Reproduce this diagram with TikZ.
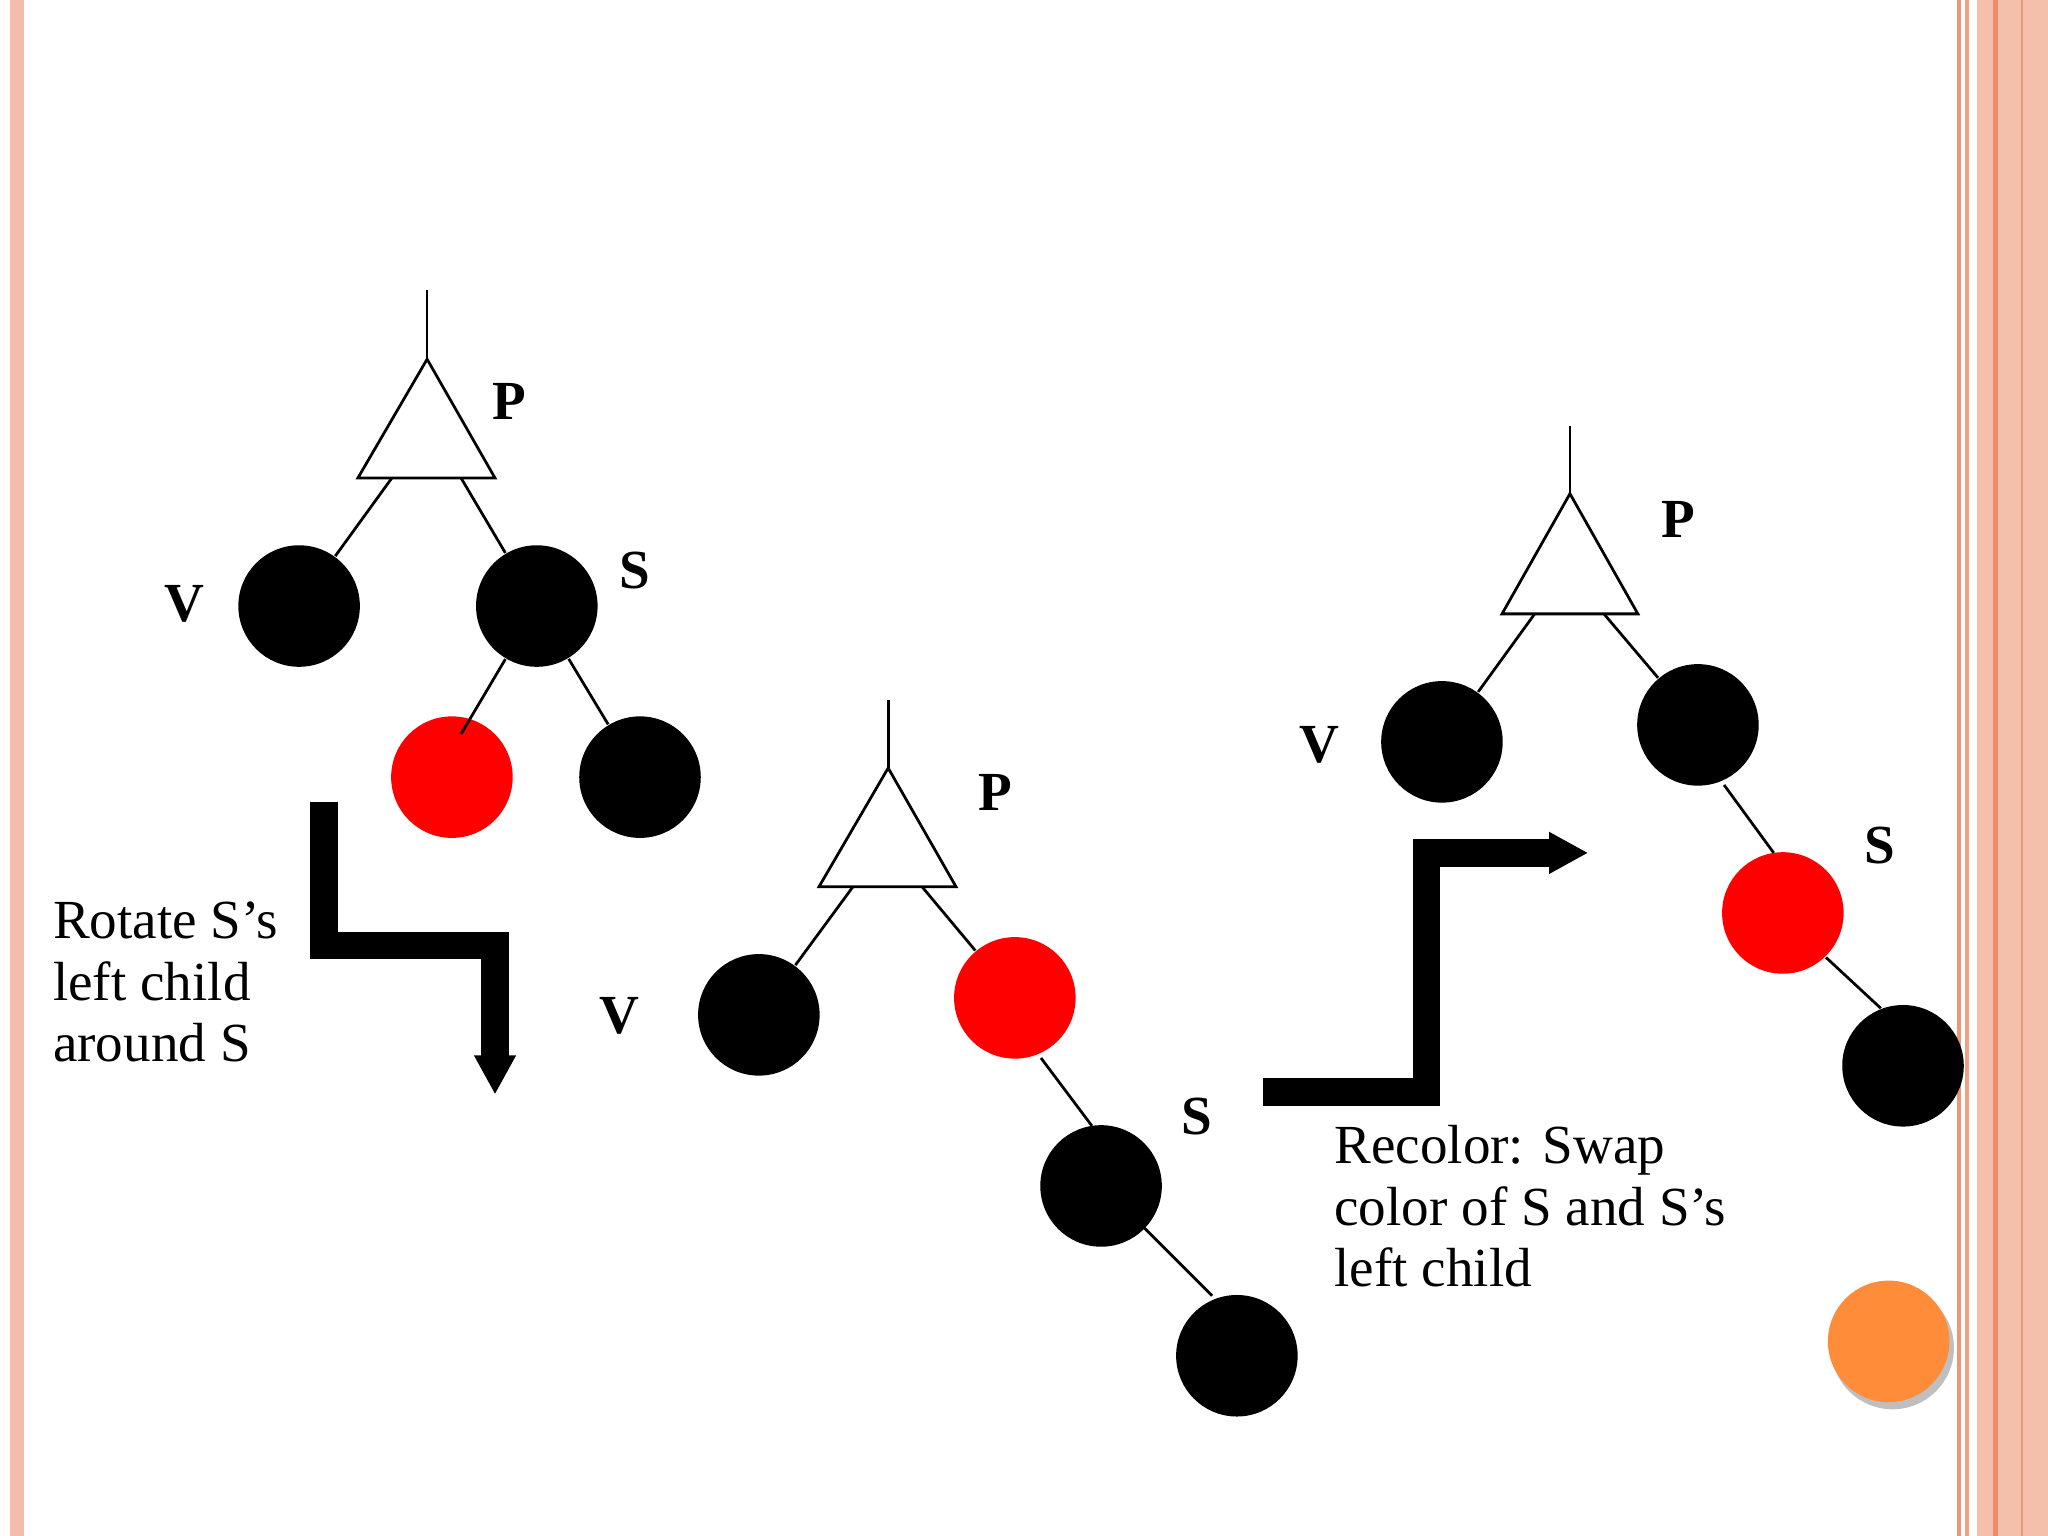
\documentclass[tikz,border=0pt]{standalone}
\usepackage{fontspec}
\setmainfont{Liberation Serif}
\begin{document}
\begin{tikzpicture}[x=0.01cm,y=-0.01cm,
  blk/.style={circle,fill=black,minimum size=0.93cm,inner sep=0},
  rd/.style={circle,fill=red,minimum size=0.93cm,inner sep=0},
  tri/.style={draw,line width=0.6pt},
  edge/.style={line width=0.6pt},
  lab/.style={font=\fontsize{12}{12}\selectfont\bfseries},
  txt/.style={font=\fontsize{12}{13.4}\selectfont,align=left,anchor=north west,inner sep=0},
  big/.style={line width=2.1mm,-{Triangle[length=3mm,width=3mm]}}]
\useasboundingbox (0,0) rectangle (1568,1176);
\usetikzlibrary{arrows.meta}
% borders
\fill[fill={rgb,255:red,244;green,188;blue,170}] (8,0) rectangle (18,1176);
\fill[fill={rgb,255:red,244;green,192;blue,172}] (1514,0) rectangle (1568,1176);
\draw[color={rgb,255:red,240;green,150;blue,120},line width=1pt] (1500,0)--(1500,1176);
\draw[color={rgb,255:red,240;green,160;blue,130},line width=1pt] (1506,0)--(1506,1176);
\draw[color={rgb,255:red,235;green,140;blue,110},line width=1pt] (1528,0)--(1528,1176);
\draw[color={rgb,255:red,235;green,150;blue,120},line width=0.6pt] (1548,0)--(1548,1176);
% orange circle
\fill[black!25] (1449,1032) circle (47);
\node[circle,fill={rgb,255:red,255;green,140;blue,56},minimum size=0.93cm,inner sep=0] (o) at (1446,1027) {};
% Tree 1
\coordinate (t1) at (327,222);
\coordinate (a1) at (327,275);
\draw[tri] (a1)--(274,366)--(379,366)--cycle;
\draw[edge] (t1)--(a1);
\node[lab] (p1) at (390,307) {P};
\node[blk] (v1) at (229,464) {};
\node[blk] (s1) at (411,464) {};
\node[rd] (r1) at (346,595) {};
\node[blk] (b1) at (490,595) {};
\coordinate (l1a) at (300,366); \coordinate (l1b) at (353,366);
\draw[edge] (l1a)--(v1); \draw[edge] (l1b)--(s1);
\draw[edge] (s1)--(353,562); \draw[edge] (s1)--(b1);
\node[lab] (vl1) at (141,462) {V};
\node[lab] (sl1) at (486,437) {S};
% arrow 1
\coordinate (ar1) at (248,614); \coordinate (ar1e) at (379,838);
\draw[big] (ar1)--(248,724)--(379,724)--(ar1e);
\node[txt] (tx1) at (40,690) {Rotate S’s\\left child\\around S};
% Tree 2
\coordinate (t2) at (680,536); \coordinate (a2) at (680,588);
\draw[tri] (a2)--(627,679)--(732,679)--cycle;
\draw[edge] (t2)--(a2);
\node[lab] (p2) at (762,607) {P};
\node[blk] (v2) at (581,777) {};
\node[rd] (r2) at (777,764) {};
\node[blk] (s2) at (843,908) {};
\node[blk] (b2) at (947,1038) {};
\draw[edge] (653,679)--(v2); \draw[edge] (706,679)--(r2);
\draw[edge] (797,810)--(836,862); \draw[edge] (876,940)--(928,992);
\node[lab] (vl2) at (474,778) {V};
\node[lab] (sl2) at (916,855) {S};
% arrow 2
\coordinate (ar2) at (967,836); \coordinate (ar2e) at (1216,653);
\draw[big] (ar2)--(1092,836)--(1092,653)--(ar2e);
\node[txt] (tx2) at (1021,861) {Recolor: Swap\\color of S and S’s\\left child};
% Tree 3
\coordinate (t3) at (1202,326); \coordinate (a3) at (1202,378);
\draw[tri] (a3)--(1150,470)--(1254,470)--cycle;
\draw[edge] (t3)--(a3);
\node[lab] (p3) at (1285,398) {P};
\node[blk] (v3) at (1104,568) {};
\node[blk] (s3) at (1300,555) {};
\node[rd] (r3) at (1365,699) {};
\node[blk] (b3) at (1457,816) {};
\draw[edge] (1175,470)--(v3); \draw[edge] (1228,470)--(s3);
\draw[edge] (1320,601)--(1358,653); \draw[edge] (1398,733)--(1440,772);
\node[lab] (vl3) at (1010,570) {V};
\node[lab] (sl3) at (1439,647) {S};
\end{tikzpicture}
\end{document}
